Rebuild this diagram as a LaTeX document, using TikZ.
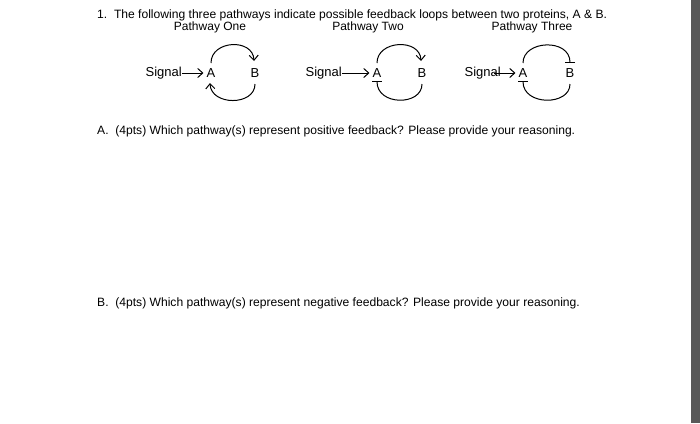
\documentclass[tikz,border=0pt]{standalone}
\usepackage{fontspec}
\setmainfont{Liberation Sans}
\usetikzlibrary{arrows.meta}
\begin{document}
\begin{tikzpicture}[x=1pt,y=-1pt,
  txt/.style={anchor=base west,inner sep=0,font=\fontsize{12.1}{14}\selectfont},
  lbl/.style={inner sep=0,font=\fontsize{12}{14}\selectfont},
  sig/.style={inner sep=0,font=\fontsize{13}{15}\selectfont},
  loop/.style={line width=1pt},
  act/.style={-{Straight Barb[length=5pt,width=9pt]}},
  inh/.style={-{Bar[width=10pt]}}]
\useasboundingbox (0,0) rectangle (700,423);
\fill[white] (0,0) rectangle (700,423);
\fill[black!65] (691,0) rectangle (700,423);
\node[txt] (t1) at (97,18) {1.\ \ The following three pathways indicate possible feedback loops between two proteins, A \& B.};
\node[lbl] (p1) at (210,27) {Pathway One};
\node[lbl] (p2) at (368,27) {Pathway Two};
\node[lbl] (p3) at (532,27) {Pathway Three};
\node[txt] (qa) at (97,134) {A.\ \ (4pts) Which pathway(s) represent positive feedback? Please provide your reasoning.};
\node[txt] (qb) at (97,306) {B.\ \ (4pts) Which pathway(s) represent negative feedback? Please provide your reasoning.};
% pathway one
\node[sig,anchor=east] (s1) at (182,73) {Signal};
\node[sig] (a1) at (211,73) {A};
\node[sig] (b1) at (255,73) {B};
\draw[loop,act] (s1.east) -- ([xshift=-3pt]a1.west);
\draw[loop,act] (211,63) .. controls (211,40) and (253,38) .. (254,61);
\draw[loop,act] (255,84) .. controls (255,106) and (211,106) .. (210,83);
% pathway two
\node[sig,anchor=east] (s2) at (342,73) {Signal};
\node[sig] (a2) at (377,73) {A};
\node[sig] (b2) at (422,73) {B};
\draw[loop,act] (s2.east) -- ([xshift=-3pt]a2.west);
\draw[loop,act] (377,63) .. controls (377,40) and (420,38) .. (421,61);
\draw[loop,inh] (422,84) .. controls (422,106) and (377,106) .. (377,81);
% pathway three
\node[sig,anchor=east] (s3) at (501,73) {Signal};
\node[sig] (a3) at (523,73) {A};
\node[sig] (b3) at (570,73) {B};
\draw[loop,act] ([xshift=-7pt]s3.east) -- ([xshift=-3pt]a3.west);
\draw[loop,inh] (523,63) .. controls (523,40) and (570,38) .. (570,63);
\draw[loop,inh] (570,84) .. controls (570,106) and (523,106) .. (523,81);
\end{tikzpicture}
\end{document}
